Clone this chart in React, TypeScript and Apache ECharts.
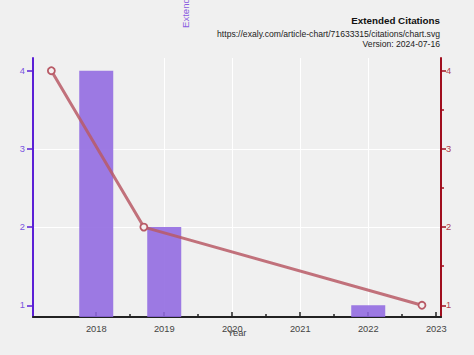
import React, { useEffect, useRef } from "react";
import * as echarts from "echarts";

const barYears = [2018, 2019, 2022];
const barValues = [4, 2, 1];
const lineX = [2017.34, 2018.7, 2022.79];
const lineValues = [4, 2, 1];
const yearTicks = [2018, 2019, 2020, 2021, 2022, 2023];
const halfYearTicks = [2018.5, 2019.5, 2020.5, 2021.5, 2022.5];
const yTicks = [1, 2, 3, 4];
const yHalfTicks = [1.5, 2.5, 3.5];
const titleText = "Extended Citations";
const urlText = "https://exaly.com/article-chart/71633315/citations/chart.svg";
const versionText = "Version: 2024-07-16";
const xAxisName = "Year";

const FONT = "'Liberation Sans', Arial, sans-serif";

export default function App() {
  const ref = useRef<HTMLDivElement>(null);
  useEffect(() => {
    document.body.style.margin = "0";
    const chart = echarts.init(ref.current!, null, { renderer: "svg" });
    const xMin = 2017.07;
    const xMax = 2023.07;
    const yMin = 0.85;
    const yMax = 4.163;
    chart.setOption({
      animation: false,
      backgroundColor: "#f0f0f0",
      textStyle: { fontFamily: FONT },
      grid: { left: 33, right: 33, top: 58, bottom: 38, containLabel: false },
      graphic: [
        {
          type: "text",
          x: 440,
          y: 20.5,
          style: {
            text: titleText,
            align: "right",
            verticalAlign: "middle",
            fontFamily: FONT,
            fontWeight: "bold",
            fontSize: 9.8,
            fill: "#111",
          },
        },
        {
          type: "text",
          x: 440,
          y: 34,
          style: {
            text: urlText,
            align: "right",
            verticalAlign: "middle",
            fontFamily: FONT,
            fontSize: 8.6,
            fill: "#222",
          },
        },
        {
          type: "text",
          x: 440,
          y: 44,
          style: {
            text: versionText,
            align: "right",
            verticalAlign: "middle",
            fontFamily: FONT,
            fontSize: 8.6,
            fill: "#222",
          },
        },
        {
          type: "text",
          x: 185,
          y: 28,
          rotation: Math.PI / 2,
          style: {
            text: titleText,
            align: "left",
            verticalAlign: "middle",
            fontFamily: FONT,
            fontSize: 9.6,
            fill: "#8a5ce0",
          },
        },
        {
          type: "text",
          x: 237,
          y: 333,
          z: 10,
          style: {
            text: xAxisName,
            align: "center",
            verticalAlign: "middle",
            fontFamily: FONT,
            fontSize: 9.3,
            fill: "#444",
          },
        },
      ],
      xAxis: [
        {
          type: "value",
          min: xMin,
          max: xMax,
          interval: 1,
          position: "bottom",
          axisLine: { show: true, lineStyle: { color: "#222", width: 2 } },
          axisTick: {
            show: true,
            inside: true,
            length: 5,
            customValues: yearTicks,
            lineStyle: { color: "#222", width: 1.5 },
          },
          axisLabel: {
            customValues: yearTicks,
            color: "#444",
            fontSize: 9.3,
            margin: 7,
            formatter: (v: number) => String(Math.round(v)),
          },
          splitLine: {
            show: true,
            showMinLine: false,
            showMaxLine: false,
            lineStyle: { color: "#ffffff", width: 1 },
          },
        },
        {
          type: "value",
          min: xMin,
          max: xMax,
          interval: 0.5,
          position: "bottom",
          axisLine: { show: false },
          axisTick: {
            show: true,
            inside: true,
            length: 3,
            customValues: halfYearTicks,
            lineStyle: { color: "#222", width: 1.5 },
          },
          axisLabel: { show: false },
          splitLine: { show: false },
        },
      ],
      yAxis: [
        {
          type: "value",
          min: yMin,
          max: yMax,
          interval: 1,
          position: "left",
          axisLine: { show: true, lineStyle: { color: "#5b1fd6", width: 2 } },
          axisTick: {
            show: true,
            length: 6,
            customValues: yTicks,
            lineStyle: { color: "#5b1fd6", width: 1.5 },
          },
          axisLabel: {
            customValues: yTicks,
            color: "#7b55e0",
            fontSize: 9.3,
            margin: 8,
          },
          splitLine: {
            show: true,
            showMinLine: false,
            showMaxLine: false,
            lineStyle: { color: "#ffffff", width: 1 },
          },
        },
        {
          type: "value",
          min: yMin,
          max: yMax,
          interval: 1,
          position: "right",
          axisLine: { show: true, lineStyle: { color: "#a00e1e", width: 2 } },
          axisTick: {
            show: true,
            length: 5,
            customValues: yTicks,
            lineStyle: { color: "#a00e1e", width: 1.5 },
          },
          axisLabel: {
            customValues: yTicks,
            color: "#b0404a",
            fontSize: 9.3,
            margin: 5,
          },
          splitLine: { show: false },
        },
        {
          type: "value",
          min: yMin,
          max: yMax,
          interval: 0.5,
          position: "right",
          axisLine: { show: false },
          axisTick: {
            show: true,
            length: 3,
            customValues: yHalfTicks,
            lineStyle: { color: "#a00e1e", width: 1.5 },
          },
          axisLabel: { show: false },
          splitLine: { show: false },
        },
      ],
      series: [
        {
          type: "bar",
          xAxisIndex: 0,
          yAxisIndex: 0,
          barWidth: 34,
          data: barYears.map((y, i) => [y, barValues[i]]),
          itemStyle: { color: "#9068e0", opacity: 0.88 },
          z: 2,
        },
        {
          type: "line",
          xAxisIndex: 0,
          yAxisIndex: 1,
          data: lineX.map((x, i) => [x, lineValues[i]]),
          symbol: "circle",
          symbolSize: 7,
          showSymbol: true,
          lineStyle: { color: "#b85a66", width: 3, opacity: 0.85 },
          itemStyle: { color: "#f4f0f0", borderColor: "#b85a66", borderWidth: 1.8 },
          z: 3,
        },
      ],
    });
    return () => chart.dispose();
  }, []);
  return (
    <div
      ref={ref}
      style={{ position: "fixed", left: 0, top: 0, width: 474, height: 355 }}
    />
  );
}
